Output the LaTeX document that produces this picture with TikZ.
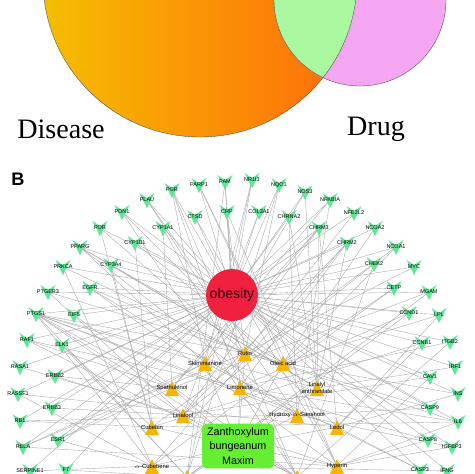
\documentclass[tikz,border=0pt]{standalone}
\usepackage{fontspec}
\setmainfont{Liberation Serif}
\setsansfont{Liberation Sans}
\usetikzlibrary{backgrounds}
\definecolor{vennyellow}{HTML}{F5BE00}
\definecolor{vennorange}{HTML}{FF6A0A}
\definecolor{venngreen}{HTML}{AAF8A0}
\definecolor{vennpink}{HTML}{F5A6F2}
\definecolor{tgtgreen}{HTML}{5EE896}
\definecolor{cmpgold}{HTML}{F6B600}
\definecolor{obred}{HTML}{F0203E}
\definecolor{zbgreen}{HTML}{66EE33}

\begin{document}
\begin{tikzpicture}[x=0.03cm, y=-0.03cm,
  tgt/.style={inner sep=0pt, font=\sffamily\fontsize{4.7}{5}\selectfont},
  cmp/.style={inner sep=0pt, align=center, font=\sffamily\fontsize{5}{5.5}\selectfont},
  hub/.style={circle, fill=obred, minimum size=1.56cm, inner sep=0pt, text=black!85!obred, font=\sffamily\fontsize{12}{14}\selectfont},
  herb/.style={rectangle, rounded corners=4pt, fill=zbgreen, minimum width=2.16cm, minimum height=1.29cm, align=center, font=\sffamily\fontsize{9.2}{12.4}\selectfont},
  edge/.style={gray!70, line width=0.3pt},
  venn/.style={draw=black!70, line width=0.3pt}
]
  \useasboundingbox (0,0) rectangle (474,474);
  \begin{scope}[on background layer]
    \fill[white] (0,0) rectangle (474,474);
  \end{scope}

  % panel A: venn
  \begin{scope}
    \clip (0,0) rectangle (474,474);
    \shade[left color=vennyellow, right color=vennorange] (200,-20) circle (4.71cm);
    \fill[vennpink] (360,0) circle (2.58cm);
    \begin{scope}
      \clip (200,-20) circle (4.71cm);
      \fill[venngreen] (360,0) circle (2.58cm);
    \end{scope}
    \draw[venn] (200,-20) circle (4.71cm);
    \draw[venn] (360,0) circle (2.58cm);
  \end{scope}
  \node[font=\fontsize{24}{28}\selectfont] (disease) at (61,129) {Disease};
  \node[font=\fontsize{24}{28}\selectfont] (drug) at (376,129) {Drug};

  % panel B: network
  \node[font=\sffamily\bfseries\fontsize{15.5}{18}\selectfont] (panelb) at (18,179) {B};
  \node[hub] (ob) at (232,295) {obesity};
  \node[herb] (zb) at (238,446) {Zanthoxylum\\bungeanum\\Maxim};

  % targets
  \foreach \n/\x/\y in {PAM/225/182, PARP1/199/185, PGR/172/190, PLAU/147/200, PON1/122/212,
      POR/100/228, PPARG/80/247, PRKCA/63/267, PTGER3/48/292, PTGS1/36/314, RAF1/27/340,
      RASA1/20/367, RASSF1/18/394, RB1/20/421, RELA/23/447, SERPINE1/30/471,
      NR1I3/252/180, NQO1/279/185, NOS3/305/192, NFKBIA/330/200, NFE2L2/354/213,
      NCOA2/375/228, NCOA1/396/247, MYC/414/267, MGAM/429/292, LPL/439/315, ITGB2/450/342,
      IRF1/455/367, INS/458/394, IL6/458/422, IGFBP3/452/447, IFNG/447/471,
      CRP/227/212, CTSD/195/217, CYP1A1/163/228, CYP1B1/135/243, CYP3A4/111/265,
      EGFR/90/288, EIF5/74/315, ELK1/62/345, ERBB2/55/376, ERBB3/52/408, ESR1/58/440, F7/66/470,
      COL3A1/259/212, CHRNA2/289/217, CHRM3/319/228, CHRM2/347/243, CHEK2/374/264,
      CETP/394/288, CCND1/409/313, CCNB1/422/343, CAV1/430/377, CASP9/430/408,
      CASP8/428/440, CASP3/420/470}{
    \fill[tgtgreen] (\x,\y) +(-7.5,-7) -- +(0,-2) -- +(7.5,-7) -- +(0,8) -- cycle;
    \node[tgt] (\n) at (\x,\y) {\n};
  }

  % compounds
  \foreach \n/\x/\y/\t in {sk/205/363/Skimmianine, ru/245/353/Rutin, ol/283/363/Oleic acid,
      li/240/387/Limonene, sp/172/388/Spathulenol, la/317/388/{Linalyl\\anthranilate},
      ln/183/415/Linalool, hs/297/415/{Hydroxy-$\alpha$-Sanshool}, cu/152/427/Cubebin,
      le/337/427/Ledol, cb/152/466/{$\alpha$-Cubebene}, hy/337/466/Hyperin,
      t1/187/477/{}, t2/297/477/{}}{
    \fill[cmpgold] (\x,\y) +(-7,8) -- +(7,8) -- +(0,-7) -- cycle;
    \node[cmp] (\n) at (\x,\y) {\t};
  }

  \begin{scope}[on background layer]
    \foreach \t in {PAM,PARP1,PGR,PLAU,PON1,POR,PPARG,PRKCA,PTGER3,PTGS1,RAF1,RASA1,RASSF1,
        RB1,RELA,SERPINE1,NR1I3,NQO1,NOS3,NFKBIA,NFE2L2,NCOA2,NCOA1,MYC,MGAM,LPL,ITGB2,IRF1,
        INS,IL6,IGFBP3,IFNG,CRP,CTSD,CYP1A1,CYP1B1,CYP3A4,EGFR,EIF5,ELK1,ERBB2,ERBB3,ESR1,F7,
        COL3A1,CHRNA2,CHRM3,CHRM2,CHEK2,CETP,CCND1,CCNB1,CAV1,CASP9,CASP8,CASP3}
      \draw[edge] (\t.center) -- (ob.center);
    \foreach \c in {sk,ru,ol,li,sp,la,ln,hs,cu,le,cb,hy,t1,t2}
      \draw[edge] (\c.center) -- (zb.center);
    \foreach \c/\tl in {sk/{PTGS1,PPARG,ESR1,RELA,CASP3,NOS3,PGR,CHRM3,NR1I3},
        ru/{PTGS1,RELA,EGFR,IL6,CASP9,NFE2L2,PRKCA,MYC,CRP,PLAU,NQO1,POR},
        ol/{PPARG,LPL,CETP,NCOA1,NCOA2,INS,PTGER3,CYP1B1,PARP1},
        li/{CCND1,CASP8,PGR,IL6,ITGB2,CHRM2,RAF1,PAM},
        sp/{ESR1,PTGS1,RAF1,CHRM3,ERBB2,CYP1A1,NFKBIA,MGAM},
        la/{CHRM2,CHRM3,CHRNA2,PTGS1,NOS3,IRF1,PPARG,CYP3A4},
        ln/{CHRM2,CHRM3,PTGS1,RASA1,ERBB3,CAV1,COL3A1,PTGER3,CHEK2},
        hs/{PTGS1,PPARG,CHRNA2,CASP9,IGFBP3,NFKBIA,PLAU,RB1,EGFR},
        cu/{CYP1B1,CYP3A4,RB1,POR,ELK1,IL6,NCOA1,CCNB1},
        le/{PTGS1,CHRM3,INS,CCNB1,CASP3,PON1,RASSF1,LPL},
        cb/{RASSF1,PTGS1,CHRM2,IFNG,SERPINE1,ESR1,CETP,PRKCA},
        hy/{CAV1,CASP8,IGFBP3,IL6,EGFR,PARP1,CRP,CTSD,RELA,ERBB2},
        t1/{PAM,ELK1,F7,MGAM,NR1I3,NQO1,PTGS1,CCND1},
        t2/{CYP1A1,CHEK2,EIF5,PON1,PGR,ITGB2,PTGS1,RAF1}}{
      \foreach \t in \tl
        \draw[edge] (\c.center) -- (\t.center);
    }
  \end{scope}
\end{tikzpicture}
\end{document}
